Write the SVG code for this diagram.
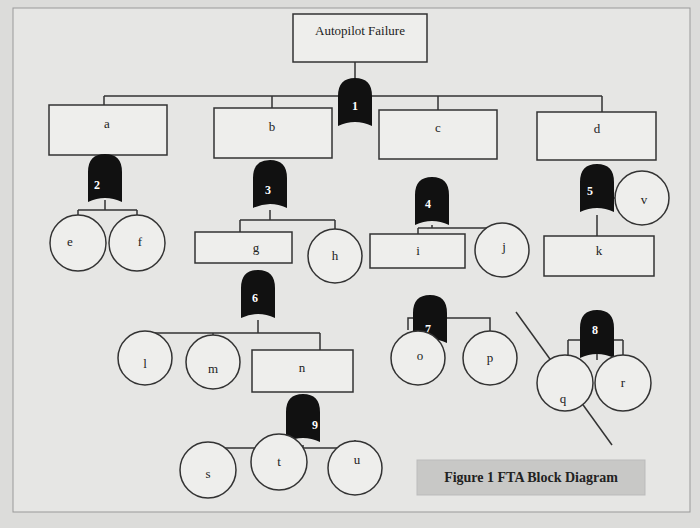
<svg xmlns="http://www.w3.org/2000/svg" width="700" height="528" viewBox="0 0 700 528">
<style>
.bx{fill:#eeeeec;stroke:#333;stroke-width:1.5}
.ci{fill:#eeeeec;stroke:#333;stroke-width:1.5}
.ln{fill:none;stroke:#333;stroke-width:1.5}
.g{fill:#111}
.t{font-family:"Liberation Serif",serif;font-size:13px;fill:#222;text-anchor:middle}
.gt{font-family:"Liberation Serif",serif;font-size:12px;font-weight:bold;fill:#fff;text-anchor:middle}
</style>
<defs>
<path id="gate" d="M-17,22 L-17,-8 Q-17,-26 0,-26 Q17,-26 17,-8 L17,22 Q0,14 -17,22 Z"/>
</defs>
<rect width="700" height="528" fill="#dcdcda"/>
<rect x="13" y="8" width="677" height="504" fill="#e6e6e4" stroke="#999" stroke-width="1"/>
<g id="connectors">
<path class="ln" d="M104,96 H602 M104,96 V105 M272,96 V108 M438,96 V110 M602,96 V112 M355,62 V78"/>
<path class="ln" d="M105,200 V210 M78,210 H137 M78,210 V215 M137,210 V215"/>
<path class="ln" d="M270,210 V220 M240,220 H335 M240,220 V232 M335,220 V229"/>
<path class="ln" d="M432,225 V228 M418,228 H502 M418,228 V234 M502,228 V223"/>
<path class="ln" d="M597,215 V236 M614,198 H615"/>
<path class="ln" d="M258,320 V333 M145,333 H320 M145,333 V331 M213,333 V335 M320,333 V350"/>
<path class="ln" d="M430,345 V318 M408,330 V318 H490 V331" />
<path class="ln" d="M597,360 V340 M568,340 H623 M568,340 V355 M623,340 V355"/>
<path class="ln" d="M303,445 V448 M208,448 H355 M208,448 V443 M355,448 V440"/>
<path class="ln" d="M516,312 L612,445" stroke-width="0.8"/>
</g>
<g id="top"><rect class="bx" x="293" y="14" width="134" height="48"/><text class="t" x="360" y="35">Autopilot Failure</text></g>
<g id="g1"><use href="#gate" class="g" x="355" y="104"/><text class="gt" x="355" y="110">1</text></g>
<g id="a"><rect class="bx" x="49" y="105" width="118" height="50"/><text class="t" x="107" y="128">a</text></g>
<g id="b"><rect class="bx" x="214" y="108" width="118" height="50"/><text class="t" x="272" y="131">b</text></g>
<g id="c"><rect class="bx" x="379" y="110" width="118" height="49"/><text class="t" x="438" y="132">c</text></g>
<g id="d"><rect class="bx" x="537" y="112" width="119" height="48"/><text class="t" x="597" y="133">d</text></g>
<g id="g2"><use href="#gate" class="g" x="105" y="180"/><text class="gt" x="97" y="189">2</text></g>
<g id="e"><circle class="ci" cx="78" cy="243" r="28"/><text class="t" x="70" y="246">e</text></g>
<g id="f"><circle class="ci" cx="137" cy="243" r="28"/><text class="t" x="140" y="246">f</text></g>
<g id="g3"><use href="#gate" class="g" x="270" y="186"/><text class="gt" x="268" y="194">3</text></g>
<g id="gb"><rect class="bx" x="195" y="232" width="97" height="31"/><text class="t" x="256" y="252">g</text></g>
<g id="h"><circle class="ci" cx="335" cy="256" r="27"/><text class="t" x="335" y="260">h</text></g>
<g id="g4"><use href="#gate" class="g" x="432" y="203"/><text class="gt" x="428" y="208">4</text></g>
<g id="i"><rect class="bx" x="370" y="234" width="95" height="34"/><text class="t" x="418" y="255">i</text></g>
<g id="j"><circle class="ci" cx="502" cy="250" r="27"/><text class="t" x="504" y="251">j</text></g>
<g id="g5"><use href="#gate" class="g" x="597" y="190"/><text class="gt" x="590" y="195">5</text></g>
<g id="v"><circle class="ci" cx="642" cy="198" r="27"/><text class="t" x="644" y="204">v</text></g>
<g id="k"><rect class="bx" x="544" y="236" width="110" height="40"/><text class="t" x="599" y="255">k</text></g>
<g id="g6"><use href="#gate" class="g" x="258" y="296"/><text class="gt" x="255" y="302">6</text></g>
<g id="l"><circle class="ci" cx="145" cy="358" r="27"/><text class="t" x="145" y="368">l</text></g>
<g id="m"><circle class="ci" cx="213" cy="362" r="27"/><text class="t" x="213" y="373">m</text></g>
<g id="n"><rect class="bx" x="252" y="350" width="101" height="42"/><text class="t" x="302" y="372">n</text></g>
<g id="g7"><use href="#gate" class="g" x="430" y="321"/><text class="gt" x="428" y="333">7</text></g>
<g id="o"><circle class="ci" cx="418" cy="358" r="27"/><text class="t" x="420" y="360">o</text></g>
<g id="p"><circle class="ci" cx="490" cy="358" r="27"/><text class="t" x="490" y="362">p</text></g>
<g id="g8"><use href="#gate" class="g" x="597" y="336"/><text class="gt" x="595" y="334">8</text></g>
<g id="q"><circle class="ci" cx="565" cy="383" r="28"/><text class="t" x="563" y="403">q</text></g>
<g id="r"><circle class="ci" cx="623" cy="383" r="28"/><text class="t" x="623" y="387">r</text></g>
<g id="g9"><use href="#gate" class="g" x="303" y="420"/><text class="gt" x="315" y="429">9</text></g>
<g id="s"><circle class="ci" cx="208" cy="470" r="28"/><text class="t" x="208" y="478">s</text></g>
<g id="tt"><circle class="ci" cx="279" cy="462" r="28"/><text class="t" x="279" y="466">t</text></g>
<g id="u"><circle class="ci" cx="355" cy="468" r="27"/><text class="t" x="357" y="464">u</text></g>
<g id="caption"><rect x="417" y="460" width="228" height="35" fill="#c8c8c6" stroke="#bbb"/><text x="531" y="482" font-family="Liberation Serif,serif" font-size="14" font-weight="bold" fill="#222" text-anchor="middle">Figure 1 FTA Block Diagram</text></g>
</svg>
